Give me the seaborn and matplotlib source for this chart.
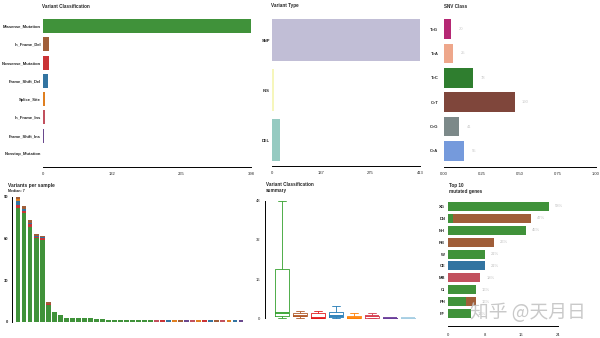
import numpy as np
import pandas as pd
import matplotlib
matplotlib.use("Agg")
import matplotlib.pyplot as plt
import seaborn as sns

# ---------------- data ----------------
vc_classes = ["Missense_Mutation", "In_Frame_Del", "Nonsense_Mutation", "Frame_Shift_Del",
              "Splice_Site", "In_Frame_Ins", "Frame_Shift_Ins", "Nonstop_Mutation"]
vc_counts = [398, 11, 11, 10, 4, 3, 2, 0]
vc_colors = ["#33A02C", "#B15928", "#E31A1C", "#1F78B4", "#FF7F00", "#D53E4F", "#6A3D9A", "#A6CEE3"]

vt_types = ["SNP", "INS", "DEL"]
vt_counts = [413, 5, 21]
vt_colors = ["#BEBADA", "#FFFFB3", "#8DD3C7"]

snv_classes = ["T>G", "T>A", "T>C", "C>T", "C>G", "C>A"]
snv_counts = [20, 25, 78, 190, 41, 55]
snv_colors = ["#CD1076", "#FFA07A", "#228B22", "#8B3E2F", "#7A8B8B", "#6495ED"]

samples = ["S%02d" % (i + 1) for i in range(38)]
ps_missense = [82, 78, 68, 60, 59, 12, 7, 5, 3, 3, 3, 3, 3, 2, 2, 1, 1, 1, 1, 1, 1, 1, 1,
               0, 0, 0, 0, 0, 0, 0, 0, 0, 0, 0, 0, 0, 0, 0]
ps_nonsense = [2, 2, 2, 1, 1, 1, 0, 0, 0, 0, 0, 0, 0, 0, 0, 0, 0, 0, 0, 0, 0, 0, 0,
               0, 1, 0, 0, 0, 0, 0, 0, 1, 0, 0, 0, 0, 0, 0]
ps_fsd = [3, 1, 1, 1, 1, 0, 0, 0, 0, 0, 0, 0, 0, 0, 0, 0, 0, 0, 0, 0, 0, 0, 0,
          0, 0, 1, 0, 0, 0, 0, 0, 0, 1, 0, 0, 0, 1, 0]
ps_splice = [1, 0, 0, 0, 0, 0, 0, 0, 0, 0, 0, 0, 0, 0, 0, 0, 0, 0, 0, 0, 0, 0, 0,
             0, 0, 0, 1, 0, 0, 0, 1, 0, 0, 0, 0, 1, 0, 0]
ps_ifi = [0, 0, 0, 0, 0, 0, 0, 0, 0, 0, 0, 0, 0, 0, 0, 0, 0, 0, 0, 0, 0, 0, 0,
          1, 0, 0, 0, 0, 0, 1, 0, 0, 0, 0, 1, 0, 0, 0]
ps_fsi = [0, 0, 0, 0, 0, 0, 0, 0, 0, 0, 0, 0, 0, 0, 0, 0, 0, 0, 0, 0, 0, 0, 0,
          0, 0, 0, 0, 0, 1, 0, 0, 0, 0, 0, 0, 0, 0, 1]
ps_ifd = [2, 2, 2, 1, 1, 1, 0, 0, 0, 0, 0, 0, 0, 0, 0, 0, 0, 0, 0, 0, 0, 0, 0,
          0, 0, 0, 0, 1, 0, 0, 0, 0, 0, 1, 0, 0, 0, 0]

box_missense = [0, 1, 1, 2, 2, 20, 20, 30, 48]
box_ifd = [0, 1, 1, 1, 2, 2, 3]
box_nonsense = [0, 0, 0, 0, 2, 2, 3]
box_fsd = [0, 0, 1, 1, 2, 3, 5]
box_splice = [0, 0, 0, 0, 1, 1, 2]
box_ifi = [0, 0, 0, 1, 1, 1, 2]
box_fsi = [0, 0, 0, 0, 0, 0, 0, 1]
box_nonstop = [0, 0, 0, 0]

genes = ["XG", "DN", "NH", "RB", "W", "CE", "MB", "OI", "PH", "FF"]
gene_missense = [22, 1, 17, 0, 8, 0, 0, 6, 4, 5]
gene_ifd = [0, 17, 0, 10, 0, 0, 0, 0, 2, 0]
gene_fsd = [0, 0, 0, 0, 0, 8, 0, 0, 0, 0]
gene_ifi = [0, 0, 0, 0, 0, 0, 7, 0, 0, 0]
n_samples = 38

# ---------------- style ----------------
sns.set_theme(style="white")
plt.rcParams["font.family"] = ["Liberation Sans", "DejaVu Sans"]
W, H = 600, 338
fig = plt.figure(figsize=(6, 3.38), dpi=100)
FS = 3.0


def add_ax(x0, y0, x1, y1):
    return fig.add_axes([x0 / W, 1 - y1 / H, (x1 - x0) / W, (y1 - y0) / H])


def ftext(x, y, s, **kw):
    kw.setdefault("fontsize", FS + 0.3)
    kw.setdefault("fontweight", "bold")
    kw.setdefault("va", "center")
    fig.text(x / W, 1 - y / H, s, **kw)


def clean(ax, left=False, bottom=True):
    for s in ["top", "right"]:
        ax.spines[s].set_visible(False)
    ax.spines["left"].set_visible(left)
    ax.spines["bottom"].set_visible(bottom)
    for s in ["left", "bottom"]:
        ax.spines[s].set_linewidth(0.7)
        ax.spines[s].set_color("black")
    ax.set_xlabel("")
    ax.set_ylabel("")
    ax.set_facecolor("white")


def bold_labels(labels):
    for l in labels:
        l.set_fontweight("bold")


# ---------- Variant Classification ----------
ax1 = add_ax(43, 17, 251, 163)
sns.barplot(x=vc_counts, y=vc_classes, hue=vc_classes, palette=vc_colors, legend=False,
            orient="h", width=0.78, linewidth=0, errorbar=None, ax=ax1)
clean(ax1)
mx = max(vc_counts)
ax1.set_xlim(0, mx)
ax1.set_ylim(len(vc_classes) - 0.5, -0.5)
ax1.set_xticks([int(v) for v in np.linspace(0, mx, 4)])
ax1.spines["bottom"].set_position(("outward", 3))
ax1.spines["bottom"].set_bounds(0, mx)
ax1.tick_params(axis="x", length=2, width=0.6, labelsize=FS, pad=1.5)
ax1.tick_params(axis="y", length=0, labelsize=FS, pad=1.5)
bold_labels(ax1.get_yticklabels())
ftext(42, 6, "Variant Classification")

# ---------- Variant Type ----------
ax2 = add_ax(272, 15.5, 420, 165)
sns.barplot(x=vt_counts, y=vt_types, hue=vt_types, palette=vt_colors, legend=False,
            orient="h", width=0.84, linewidth=0, errorbar=None, ax=ax2)
clean(ax2)
mx2 = max(vt_counts)
ax2.set_xlim(0, mx2)
ax2.set_ylim(2.5, -0.5)
ax2.set_xticks([int(v) for v in np.linspace(0, mx2, 4)])
ax2.spines["bottom"].set_position(("outward", 1))
ax2.spines["bottom"].set_bounds(0, mx2)
ax2.tick_params(axis="x", length=2, width=0.6, labelsize=FS, pad=1.5)
ax2.tick_params(axis="y", length=0, labelsize=FS, pad=1.5)
bold_labels(ax2.get_yticklabels())
ftext(271, 6, "Variant Type")

# ---------- SNV Class ----------
snv_frac = [c / sum(snv_counts) for c in snv_counts]
ax3 = add_ax(444, 17, 596, 163)
sns.barplot(x=snv_frac, y=snv_classes, hue=snv_classes, palette=snv_colors, legend=False,
            orient="h", width=0.82, linewidth=0, errorbar=None, ax=ax3)
clean(ax3)
ax3.set_xlim(0, 1)
ax3.set_ylim(5.5, -0.5)
ax3.set_xticks([0, 0.25, 0.5, 0.75, 1.0])
ax3.set_xticklabels(["0.00", "0.25", "0.50", "0.75", "1.00"], rotation=90)
ax3.spines["bottom"].set_position(("outward", 3))
ax3.spines["bottom"].set_bounds(0, 1)
ax3.tick_params(axis="x", length=2, width=0.6, labelsize=FS, pad=1.5)
ax3.tick_params(axis="y", length=0, labelsize=FS, pad=4)
bold_labels(ax3.get_yticklabels())
for i, (f, c) in enumerate(zip(snv_frac, snv_counts)):
    ax3.text(f + 0.05, i, str(c), fontsize=FS, color="#C8C8C8", va="center", ha="left")
ftext(444, 6, "SNV Class")

# ---------- Variants per sample ----------
layers = [(ps_missense, vc_colors[0]), (ps_nonsense, vc_colors[2]), (ps_fsd, vc_colors[3]),
          (ps_splice, vc_colors[4]), (ps_ifi, vc_colors[5]), (ps_fsi, vc_colors[6]),
          (ps_ifd, vc_colors[1])]
cums = []
run = np.zeros(len(samples))
for vals, col in layers:
    run = run + np.array(vals)
    cums.append((run.copy(), col))
ax4 = add_ax(15, 196.7, 244, 321.7)
for cum, col in reversed(cums):
    sns.barplot(x=samples, y=cum, color=col, width=0.8, linewidth=0, errorbar=None,
                order=samples, ax=ax4)
clean(ax4, left=True, bottom=False)
mx4 = int(cums[-1][0].max())
ax4.set_ylim(0, mx4)
ax4.set_xlim(-0.5, len(samples) - 0.5)
ax4.set_yticks([int(v) for v in np.linspace(0, mx4, 4)])
ax4.set_xticks([])
ax4.spines["left"].set_position(("outward", 2))
ax4.spines["left"].set_bounds(0, mx4)
ax4.tick_params(axis="y", length=2, width=0.6, labelsize=FS, pad=1)
bold_labels(ax4.get_yticklabels())
ftext(8, 185, "Variants per sample", fontsize=FS + 0.5)
ftext(8, 190.5, "Median: 7", fontsize=FS - 0.4)

# ---------- Variant Classification summary (boxplot) ----------
box_lists = [box_missense, box_ifd, box_nonsense, box_fsd, box_splice, box_ifi, box_fsi, box_nonstop]
df_box = pd.DataFrame({
    "cls": np.concatenate([[c] * len(v) for c, v in zip(vc_classes, box_lists)]),
    "val": np.concatenate([np.array(v, dtype=float) for v in box_lists]),
})
ppu = (318.3 - 200.7) / 48.0
ax5 = add_ax(273, 200.7 - ppu, 417, 318.3 + ppu)
sns.boxplot(data=df_box, x="cls", y="val", hue="cls", order=vc_classes, hue_order=vc_classes,
            palette=dict(zip(vc_classes, vc_colors)), fill=False, showfliers=False, width=0.8,
            linewidth=0.6, medianprops=dict(linewidth=1.3), legend=False, ax=ax5)
clean(ax5, left=True, bottom=False)
ax5.set_ylim(-1, 49)
ax5.set_xlim(-0.5, 7.5)
ax5.set_yticks([0, 16, 32, 48])
ax5.set_xticks([])
ax5.spines["left"].set_position(("outward", 6))
ax5.spines["left"].set_bounds(0, 48)
ax5.tick_params(axis="y", length=2, width=0.6, labelsize=FS, pad=1)
ftext(266, 185, "Variant Classification", fontsize=FS + 0.3)
ftext(266, 190.7, "summary", fontsize=FS + 0.3)

# ---------- Top 10 mutated genes ----------
g_layers = [(gene_missense, vc_colors[0]), (gene_ifd, vc_colors[1]),
            (gene_fsd, vc_colors[3]), (gene_ifi, vc_colors[5])]
g_cums = []
run = np.zeros(len(genes))
for vals, col in g_layers:
    run = run + np.array(vals)
    g_cums.append((run.copy(), col))
ax6 = add_ax(448, 200.5, 558, 319.5)
for cum, col in reversed(g_cums):
    sns.barplot(x=cum, y=genes, color=col, orient="h", width=0.76, linewidth=0,
                errorbar=None, order=genes, ax=ax6)
clean(ax6)
ax6.set_xlim(0, 24)
ax6.set_ylim(len(genes) - 0.5, -0.5)
ax6.set_xticks([0, 8, 16, 24])
ax6.spines["bottom"].set_position(("outward", 4.5))
ax6.spines["bottom"].set_bounds(0, 24)
ax6.tick_params(axis="x", length=2, width=0.6, labelsize=FS, pad=3)
ax6.tick_params(axis="y", length=0, labelsize=FS, pad=2)
bold_labels(ax6.get_yticklabels())
totals = g_cums[-1][0]
for i, t in enumerate(totals):
    ax6.text(t + 1.4, i, "%d%%" % round(100 * t / n_samples), fontsize=FS, color="#C0C0C0",
             va="center", ha="left")
ftext(449, 185.7, "Top 10", fontsize=FS + 0.3)
ftext(449, 192, "mutated genes", fontsize=FS + 0.3)

# watermark
fig.text(470 / W, 1 - 312 / H, "知乎 @天月日", fontsize=13.5, color="#C4C4C4", alpha=0.9,
         family=["Noto Sans CJK SC", "DejaVu Sans"], va="center", ha="left")

fig.savefig("out.png", dpi=100, facecolor="white")
